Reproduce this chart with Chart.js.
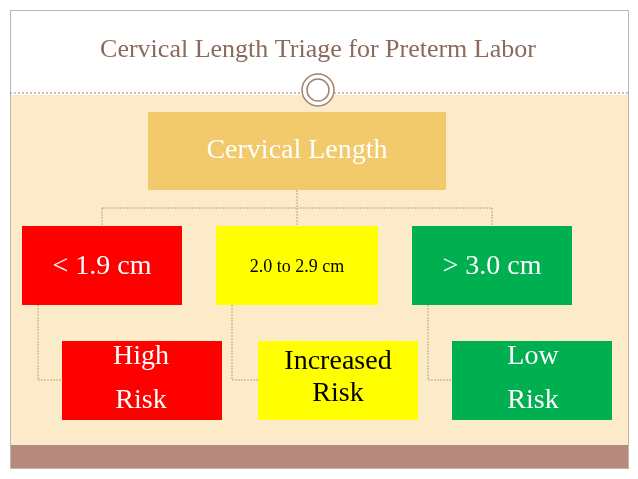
<!DOCTYPE html>
<html>
<head>
<meta charset="utf-8">
<script src="https://cdn.jsdelivr.net/npm/chart.js@4"></script>
<style>
  html, body { margin: 0; padding: 0; background: #fff; }
  #wrap { width: 638px; height: 479px; }
</style>
</head>
<body>
<div id="wrap"><canvas id="myChart" width="638" height="479"></canvas></div>
<script>
const title = "Cervical Length Triage for Preterm Labor";
const rootLabel = "Cervical Length";
const levelLabels = ["< 1.9 cm", "2.0 to 2.9 cm", "> 3.0 cm"];
const riskLabels = [["High", "Risk"], ["Increased", "Risk"], ["Low", "Risk"]];
const boxColors = ["#FF0000", "#FFFF00", "#00B050"];
const textColors = ["#FFFFFF", "#000000", "#FFFFFF"];

const serif = "'Liberation Serif', 'DejaVu Serif', serif";

// draws the slide on a hidden 638 x 479 coordinate grid
const slide = {
  id: "slide",
  beforeDatasetsDraw(chart) {
    const { ctx, scales: { x, y } } = chart;
    const X = (v) => x.getPixelForValue(v);
    const Y = (v) => y.getPixelForValue(v);
    const rect = (x1, y1, x2, y2, fill) => {
      ctx.fillStyle = fill;
      ctx.fillRect(X(x1), Y(y1), X(x2) - X(x1), Y(y2) - Y(y1));
    };
    const line = (pts) => {
      ctx.beginPath();
      ctx.moveTo(X(pts[0][0]), Y(pts[0][1]));
      pts.slice(1).forEach((p) => ctx.lineTo(X(p[0]), Y(p[1])));
      ctx.stroke();
    };
    ctx.save();

    // frame + background
    rect(10, 95, 628, 445, "#FBEBC9");
    rect(10, 445, 628, 468, "#B5897B");
    ctx.strokeStyle = "#BFB5AE";
    ctx.lineWidth = 1;
    ctx.strokeRect(X(10) + 0.5, Y(10) + 0.5, X(628) - X(10), Y(468) - Y(10));
    ctx.setLineDash([2, 2]);
    ctx.strokeStyle = "#A08070";
    line([[10, 93], [628, 93]]);
    ctx.setLineDash([]);

    // title
    ctx.fillStyle = "#8A6A5C";
    ctx.font = "26px " + serif;
    ctx.textAlign = "center";
    ctx.textBaseline = "middle";
    ctx.fillText(title, X(318), Y(50));

    // circle ornament
    ctx.fillStyle = "#FFFFFF";
    ctx.strokeStyle = "#A08070";
    ctx.lineWidth = 1.5;
    ctx.beginPath(); ctx.arc(X(318), Y(90), 16, 0, Math.PI * 2); ctx.fill(); ctx.stroke();
    ctx.beginPath(); ctx.arc(X(318), Y(90), 11, 0, Math.PI * 2); ctx.stroke();

    // connectors
    ctx.strokeStyle = "#C8A070";
    ctx.lineWidth = 1;
    ctx.setLineDash([2, 1]);
    line([[297, 190], [297, 208]]);
    line([[102, 208], [492, 208]]);
    [102, 297, 492].forEach((cx) => line([[cx, 208], [cx, 226]]));
    [38, 232, 428].forEach((lx, i) => {
      const bx = [62, 258, 452][i];
      line([[lx, 305], [lx, 380], [bx, 380]]);
    });
    ctx.setLineDash([]);

    // root box
    rect(148, 112, 446, 190, "#F2C96B");
    ctx.fillStyle = "#FFFFFF";
    ctx.font = "28px " + serif;
    ctx.fillText(rootLabel, X(297), Y(151));

    // level boxes
    const lx = [[22, 182], [216, 378], [412, 572]];
    levelLabels.forEach((lab, i) => {
      rect(lx[i][0], 226, lx[i][1], 305, boxColors[i]);
      ctx.fillStyle = textColors[i];
      ctx.font = (i === 1 ? "18px " : "28px ") + serif;
      ctx.fillText(lab, X((lx[i][0] + lx[i][1]) / 2), Y(267));
    });

    // risk boxes
    const rx = [[62, 222, 141], [258, 418, 338], [452, 612, 533]];
    riskLabels.forEach((lines, i) => {
      rect(rx[i][0], 341, rx[i][1], 420, boxColors[i]);
      ctx.fillStyle = textColors[i];
      ctx.font = "28px " + serif;
      const ys = i === 1 ? [362, 394] : [357, 401];
      lines.forEach((t, k) => ctx.fillText(t, X(rx[i][2]), Y(ys[k])));
    });

    ctx.restore();
  },
};

new Chart(document.getElementById("myChart"), {
  type: "scatter",
  data: { datasets: [{ data: [], pointRadius: 0 }] },
  options: {
    responsive: false,
    animation: false,
    layout: { padding: 0 },
    plugins: { legend: { display: false }, tooltip: { enabled: false } },
    scales: {
      x: { type: "linear", min: 0, max: 638, display: false },
      y: { type: "linear", min: 0, max: 479, reverse: true, display: false },
    },
  },
  plugins: [slide],
});
</script>
</body>
</html>
